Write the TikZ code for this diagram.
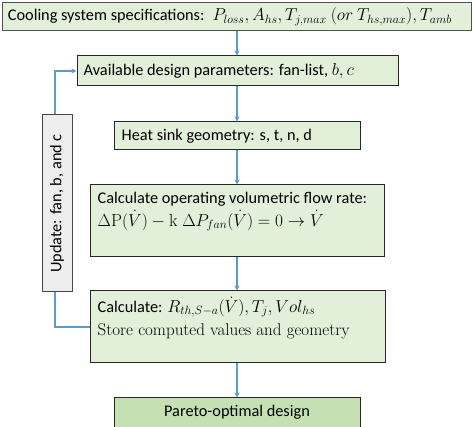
\documentclass[tikz,border=0pt]{standalone}
\usepackage{fontspec}
\setsansfont{Carlito}
\usetikzlibrary{arrows.meta,positioning,calc}
\definecolor{boxfill}{HTML}{E2EFD9}
\definecolor{endfill}{HTML}{C5E0B3}
\definecolor{updfill}{HTML}{EDEDED}
\definecolor{arrowblue}{HTML}{5B9BD5}
\definecolor{edge}{HTML}{262626}
\newcommand{\mth}[1]{{\fontsize{17.5}{20}\selectfont$#1$}}
\tikzset{
  box/.style={draw=edge, line width=1pt, fill=boxfill, inner sep=0pt},
  txt/.style={font=\sffamily\fontsize{16.3}{20}\selectfont, anchor=west, inner sep=0pt, align=left},
  flow/.style={draw=arrowblue, line width=1.3pt, -{Stealth[length=5pt,width=5pt]}},
  fline/.style={draw=arrowblue, line width=1.3pt}
}
\begin{document}
\begin{tikzpicture}[x=1pt,y=1pt]
\useasboundingbox (0,0) rectangle (474,427);
% boxes (y = 427 - pixel y)
\node[box, draw=edge!80, line width=1.6pt, minimum width=469pt, minimum height=28pt] (b1) at (237,410.5) {};
\node[txt] (t1) at ([xshift=6pt]b1.west) {Cooling system specifications:\enspace\mth{P_{loss}, A_{hs}, T_{j,max}\ (or\ T_{hs,max}), T_{amb}}};
\node[box, minimum width=321pt, minimum height=30pt] (b2) at (237.5,356) {};
\node[txt] (t2) at ([xshift=7pt]b2.west) {Available design parameters: fan-list, \mth{b, c}};
\node[box, minimum width=246pt, minimum height=28pt] (b3) at (237,291) {};
\node[txt] (t3) at ([xshift=8pt]b3.west) {Heat sink geometry: s, t, n, d};
\node[box, minimum width=294pt, minimum height=72pt] (b4) at (237,206) {};
\node[txt, anchor=north west] (t4) at ([shift={(8pt,-7pt)}]b4.north west) {Calculate operating volumetric flow rate:\\[3pt]
\mth{\Delta\mathrm{P}\big(\dot V\big) - \mathrm{k}\;\Delta P_{fan}\big(\dot V\big) = 0 \rightarrow \dot V}};
\node[box, minimum width=295pt, minimum height=72pt] (b5) at (237.5,100) {};
\node[txt, anchor=north west] (t5) at ([shift={(8pt,-6pt)}]b5.north west) {Calculate: \mth{R_{th,S-a}\big(\dot V\big), T_j, Vol_{hs}}\\[3pt]
{\rmfamily\fontsize{17}{20}\selectfont Store computed values and geometry}};
\node[box, fill=endfill, minimum width=246pt, minimum height=34pt] (b6) at (237,12) {};
\node[txt, anchor=center] (t6) at (237,15) {Pareto-optimal design};
\node[box, fill=updfill, draw=edge!85, minimum width=30pt, minimum height=177pt] (up) at (57,223.5) {};
\node[txt, anchor=center, rotate=90] (tu) at (up.center) {Update: fan, b, and c};
% flow arrows
\draw[flow] (b1.south) -- (b2.north -| b1.south);
\draw[flow] (b2.south -| b3.north) -- (b3.north);
\draw[flow] (b3.south) -- (b4.north -| b3.south);
\draw[flow] (b4.south -| b3.south) -- (b5.north -| b3.south);
\draw[flow] (b5.south -| b3.south) -- (b6.north -| b3.south);
% feedback loop
\coordinate (fb) at (55,0);
\draw[fline] (b5.west) -| (up.south -| fb);
\draw[flow] (up.north -| fb) |- (b2.west);
\end{tikzpicture}
\end{document}
